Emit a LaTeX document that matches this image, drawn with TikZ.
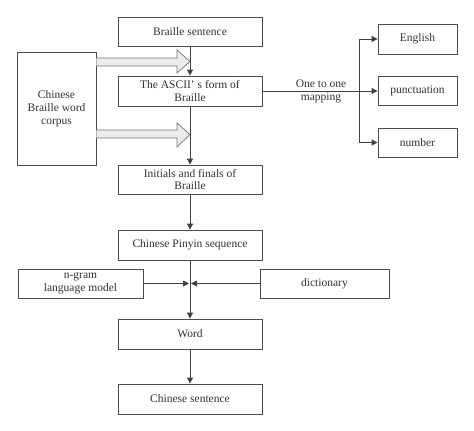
\documentclass[tikz,border=0pt]{standalone}
\usepackage{fontspec}
\setmainfont{Liberation Serif}
\usetikzlibrary{arrows.meta}
\begin{document}
\begin{tikzpicture}[x=1pt,y=-1pt,
  txt/.style={font=\fontsize{11.5}{12.8}\selectfont,text=black!80},
  box/.style={txt,draw=black!70,line width=0.8pt,fill=white,inner sep=0pt,align=center},
  conn/.style={draw=black!75,line width=0.8pt},
  arr/.style={conn,-{Triangle[length=6pt,width=6pt]}},
  block/.style={draw=black!55,line width=0.7pt,fill=black!8}]
\useasboundingbox (0,0) rectangle (474,431);
% main column
\node[box,minimum width=144pt,minimum height=29pt] (bs) at (190,31.5) {Braille sentence};
\node[box,minimum width=144pt,minimum height=30pt] (ascii) at (190,91) {The ASCII' s form of\\Braille};
\node[box,minimum width=144pt,minimum height=29pt] (ini) at (190,179.5) {Initials and finals of\\Braille};
\node[box,minimum width=144pt,minimum height=30pt] (pin) at (190,245) {Chinese Pinyin sequence};
\node[box,minimum width=144pt,minimum height=30pt] (word) at (190,334) {Word};
\node[box,minimum width=144pt,minimum height=30pt] (cs) at (190,399) {Chinese sentence};
% left / right
\node[box,minimum width=79pt,minimum height=113pt] (corp) at (56.5,108.5) {Chinese\\Braille word\\corpus};
\node[box,minimum width=125pt,minimum height=29pt] (ngram) at (80.5,283.5) {n-gram\\language model};
\node[box,minimum width=129pt,minimum height=29pt] (dict) at (324.5,283.5) {dictionary};
\node[box,minimum width=79pt,minimum height=30pt] (eng) at (417.5,39) {English};
\node[box,minimum width=79pt,minimum height=29pt] (pun) at (417.5,90.5) {punctuation};
\node[box,minimum width=79pt,minimum height=29pt] (num) at (417.5,142.5) {number};
% block arrows
\draw[block] (corp.east |- 0,58) -- (177,58) -- (177,50) -- (190,61.5) -- (177,73) -- (177,66) -- (corp.east |- 0,66);
\draw[block] (corp.east |- 0,130) -- (177,130) -- (177,123) -- (190,134.5) -- (177,147) -- (177,138) -- (corp.east |- 0,138);
% vertical flow
\draw[arr] (bs) -- (ascii);
\draw[arr] (ascii) -- (ini);
\draw[arr] (ini) -- (pin);
\coordinate (mid) at (190,283.5);
\draw[arr] (pin) -- (word);
\draw[arr] (word) -- (cs);
\draw[arr] (ngram.east) -- ([xshift=-1pt]mid);
\draw[arr] (dict.west) -- ([xshift=1pt]mid);
% mapping
\coordinate (br) at (359,91);
\draw[conn] (ascii.east) -- (br);
\node[txt,align=center] (lbl) at (321,91.5) {One to one\\mapping};
\draw[conn] (br |- eng.west) -- (br |- num.west);
\draw[arr] (br |- eng.west) -- (eng.west);
\draw[arr] (br) -- (br -| pun.west);
\draw[arr] (br |- num.west) -- (num.west);
\end{tikzpicture}
\end{document}
